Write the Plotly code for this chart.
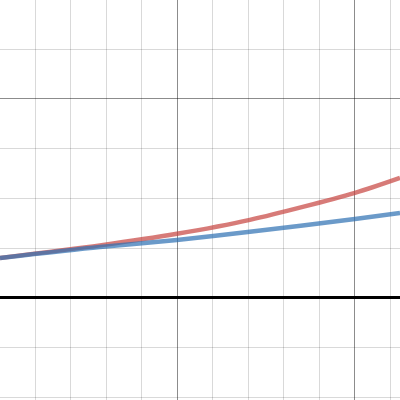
import plotly.graph_objects as go

red_x = [0.0, 0.563, 0.997, 1.408, 2.000, 2.254]
red_y = [0.201, 0.264, 0.322, 0.392, 0.528, 0.603]
blue_x = [0.0, 0.563, 0.997, 1.408, 2.000, 2.254]
blue_y = [0.201, 0.256, 0.291, 0.332, 0.397, 0.427]

fig = go.Figure()
fig.add_trace(go.Scatter(x=red_x, y=red_y, mode="lines", line=dict(color="#c74440", width=4.5, shape="spline", smoothing=0.8), opacity=0.7))
fig.add_trace(go.Scatter(x=blue_x, y=blue_y, mode="lines", line=dict(color="#2d70b3", width=4.5, shape="spline", smoothing=0.8), opacity=0.7))

ax = dict(showticklabels=False, ticks="", showline=False, gridcolor="rgba(0,0,0,0.45)", gridwidth=1,
          minor=dict(showgrid=True, gridcolor="rgba(0,0,0,0.15)", gridwidth=1))
fig.update_layout(width=400, height=400, autosize=False, margin=dict(l=0, r=0, t=0, b=0), showlegend=False,
                  plot_bgcolor="white", paper_bgcolor="white",
                  xaxis=dict(ax, range=[0, 2.254], dtick=1, tick0=0, minor=dict(ax["minor"], dtick=0.2), zeroline=False),
                  yaxis=dict(ax, range=[-0.513, 1.497], dtick=1, tick0=0, minor=dict(ax["minor"], dtick=0.25),
                             zeroline=True, zerolinecolor="black", zerolinewidth=2.5))
fig.write_html("out.html", config={"responsive": False, "displayModeBar": False},
               post_script="document.body.style.margin='0';document.body.style.overflow='hidden';")
